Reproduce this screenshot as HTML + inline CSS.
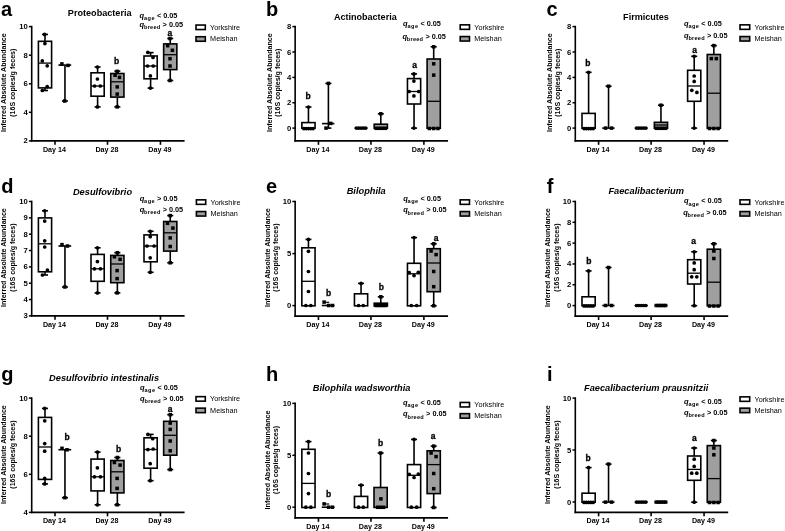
<!DOCTYPE html>
<html lang="en"><head><meta charset="utf-8"><title>Inferred absolute abundance box plots</title>
<style>html,body{margin:0;padding:0;background:#fff}svg{display:block}</style></head>
<body>
<svg width="785" height="531" viewBox="0 0 785 531" font-family='"Liberation Sans", Arial, Helvetica, sans-serif' fill="#000">
<rect width="785" height="531" fill="#fff"/>
<text x="1.00" y="15.60" font-size="20" font-weight="bold" font-style="normal" text-anchor="start">a</text>
<text x="99.70" y="15.70" font-size="9.1" font-weight="bold" font-style="normal" text-anchor="middle">Proteobacteria</text>
<line x1="31.70" y1="25.80" x2="31.70" y2="141.70" stroke="#000" stroke-width="1.6"/>
<line x1="30.90" y1="140.90" x2="184.60" y2="140.90" stroke="#000" stroke-width="1.7"/>
<line x1="28.90" y1="26.60" x2="31.70" y2="26.60" stroke="#000" stroke-width="1.5"/>
<text x="27.80" y="29.10" font-size="7.7" font-weight="bold" font-style="normal" text-anchor="end">10</text>
<line x1="28.90" y1="55.20" x2="31.70" y2="55.20" stroke="#000" stroke-width="1.5"/>
<text x="27.80" y="57.70" font-size="7.7" font-weight="bold" font-style="normal" text-anchor="end">8</text>
<line x1="28.90" y1="83.80" x2="31.70" y2="83.80" stroke="#000" stroke-width="1.5"/>
<text x="27.80" y="86.30" font-size="7.7" font-weight="bold" font-style="normal" text-anchor="end">6</text>
<line x1="28.90" y1="112.30" x2="31.70" y2="112.30" stroke="#000" stroke-width="1.5"/>
<text x="27.80" y="114.80" font-size="7.7" font-weight="bold" font-style="normal" text-anchor="end">4</text>
<line x1="28.90" y1="140.90" x2="31.70" y2="140.90" stroke="#000" stroke-width="1.5"/>
<text x="27.80" y="143.40" font-size="7.7" font-weight="bold" font-style="normal" text-anchor="end">2</text>
<line x1="55.00" y1="140.90" x2="55.00" y2="144.80" stroke="#000" stroke-width="1.6"/>
<text x="54.40" y="152.00" font-size="7.15" font-weight="bold" font-style="normal" text-anchor="middle">Day 14</text>
<line x1="107.50" y1="140.90" x2="107.50" y2="144.80" stroke="#000" stroke-width="1.6"/>
<text x="106.90" y="152.00" font-size="7.15" font-weight="bold" font-style="normal" text-anchor="middle">Day 28</text>
<line x1="160.45" y1="140.90" x2="160.45" y2="144.80" stroke="#000" stroke-width="1.6"/>
<text x="159.85" y="152.00" font-size="7.15" font-weight="bold" font-style="normal" text-anchor="middle">Day 49</text>
<text transform="translate(6.20,82.70) rotate(-90)" font-size="7.1" font-weight="bold" text-anchor="middle">Inferred Absolute Abundance</text>
<text transform="translate(14.70,82.70) rotate(-90)" font-size="7.1" font-weight="bold" text-anchor="middle">(16S copies/g feces)</text>
<text x="139.60" y="17.60" font-size="7.5" font-weight="bold" font-style="italic" text-anchor="start">q</text>
<text x="144.00" y="19.70" font-size="5.6" font-weight="bold" font-style="normal" text-anchor="start" letter-spacing="0.45">age</text>
<text x="156.90" y="17.60" font-size="7.3" font-weight="bold" font-style="normal" text-anchor="start">&lt; 0.05</text>
<text x="139.60" y="27.30" font-size="7.5" font-weight="bold" font-style="italic" text-anchor="start">q</text>
<text x="144.00" y="29.40" font-size="5.6" font-weight="bold" font-style="normal" text-anchor="start" letter-spacing="0.25">breed</text>
<text x="162.60" y="27.30" font-size="7.3" font-weight="bold" font-style="normal" text-anchor="start">&gt; 0.05</text>
<rect x="196.00" y="25.05" width="9.3" height="4.5" fill="#fff" stroke="#000" stroke-width="1.6"/>
<text x="210.10" y="29.75" font-size="7.25" font-weight="normal" font-style="normal" text-anchor="start">Yorkshire</text>
<rect x="196.00" y="36.75" width="9.3" height="4.5" fill="#9f9f9f" stroke="#000" stroke-width="1.6"/>
<text x="210.10" y="41.45" font-size="7.25" font-weight="normal" font-style="normal" text-anchor="start">Meishan</text>
<line x1="45.00" y1="34.40" x2="45.00" y2="41.30" stroke="#000" stroke-width="1.6"/>
<line x1="42.00" y1="34.40" x2="48.00" y2="34.40" stroke="#000" stroke-width="1.6"/>
<line x1="45.00" y1="87.90" x2="45.00" y2="90.50" stroke="#000" stroke-width="1.6"/>
<line x1="42.00" y1="90.50" x2="48.00" y2="90.50" stroke="#000" stroke-width="1.6"/>
<rect x="38.40" y="41.30" width="13.20" height="46.60" fill="#fff" stroke="#000" stroke-width="1.6"/>
<line x1="38.40" y1="63.10" x2="51.60" y2="63.10" stroke="#000" stroke-width="1.3"/>
<circle cx="44.60" cy="34.40" r="1.85" fill="#000"/>
<circle cx="44.90" cy="43.60" r="1.85" fill="#000"/>
<circle cx="42.30" cy="60.90" r="1.85" fill="#000"/>
<circle cx="47.20" cy="65.80" r="1.85" fill="#000"/>
<circle cx="47.20" cy="86.60" r="1.85" fill="#000"/>
<circle cx="42.30" cy="90.50" r="1.85" fill="#000"/>
<line x1="58.40" y1="65.10" x2="71.20" y2="65.10" stroke="#000" stroke-width="1.6"/>
<line x1="64.95" y1="65.10" x2="64.95" y2="101.00" stroke="#000" stroke-width="1.6"/>
<line x1="61.95" y1="101.00" x2="67.95" y2="101.00" stroke="#000" stroke-width="1.6"/>
<rect x="60.15" y="62.15" width="3.5" height="3.5" fill="#000"/>
<rect x="66.25" y="63.65" width="3.5" height="3.5" fill="#000"/>
<rect x="62.95" y="99.25" width="3.5" height="3.5" fill="#000"/>
<line x1="97.60" y1="67.00" x2="97.60" y2="72.80" stroke="#000" stroke-width="1.6"/>
<line x1="94.60" y1="67.00" x2="100.60" y2="67.00" stroke="#000" stroke-width="1.6"/>
<line x1="97.60" y1="96.20" x2="97.60" y2="106.90" stroke="#000" stroke-width="1.6"/>
<line x1="94.60" y1="106.90" x2="100.60" y2="106.90" stroke="#000" stroke-width="1.6"/>
<rect x="91.00" y="72.80" width="13.20" height="23.40" fill="#fff" stroke="#000" stroke-width="1.6"/>
<line x1="91.00" y1="86.00" x2="104.20" y2="86.00" stroke="#000" stroke-width="1.3"/>
<circle cx="97.40" cy="67.00" r="1.85" fill="#000"/>
<circle cx="97.40" cy="79.00" r="1.85" fill="#000"/>
<circle cx="94.60" cy="86.00" r="1.85" fill="#000"/>
<circle cx="100.30" cy="86.00" r="1.85" fill="#000"/>
<circle cx="97.40" cy="106.90" r="1.85" fill="#000"/>
<line x1="117.35" y1="71.10" x2="117.35" y2="73.50" stroke="#000" stroke-width="1.6"/>
<line x1="114.35" y1="71.10" x2="120.35" y2="71.10" stroke="#000" stroke-width="1.6"/>
<line x1="117.35" y1="97.10" x2="117.35" y2="106.90" stroke="#000" stroke-width="1.6"/>
<line x1="114.35" y1="106.90" x2="120.35" y2="106.90" stroke="#000" stroke-width="1.6"/>
<rect x="110.75" y="73.50" width="13.20" height="23.60" fill="#9f9f9f" stroke="#000" stroke-width="1.6"/>
<line x1="110.75" y1="81.80" x2="123.95" y2="81.80" stroke="#000" stroke-width="1.3"/>
<rect x="115.45" y="69.55" width="3.5" height="3.5" fill="#000"/>
<rect x="113.35" y="73.55" width="3.5" height="3.5" fill="#000"/>
<rect x="117.75" y="75.65" width="3.5" height="3.5" fill="#000"/>
<rect x="115.45" y="85.15" width="3.5" height="3.5" fill="#000"/>
<rect x="115.45" y="92.35" width="3.5" height="3.5" fill="#000"/>
<rect x="115.45" y="105.15" width="3.5" height="3.5" fill="#000"/>
<text x="116.70" y="63.80" font-size="8.5" font-weight="bold" font-style="normal" text-anchor="middle" stroke="#000" stroke-width="0.3">b</text>
<line x1="150.60" y1="52.60" x2="150.60" y2="56.00" stroke="#000" stroke-width="1.6"/>
<line x1="147.60" y1="52.60" x2="153.60" y2="52.60" stroke="#000" stroke-width="1.6"/>
<line x1="150.60" y1="78.80" x2="150.60" y2="88.10" stroke="#000" stroke-width="1.6"/>
<line x1="147.60" y1="88.10" x2="153.60" y2="88.10" stroke="#000" stroke-width="1.6"/>
<rect x="144.00" y="56.00" width="13.20" height="22.80" fill="#fff" stroke="#000" stroke-width="1.6"/>
<line x1="144.00" y1="66.00" x2="157.20" y2="66.00" stroke="#000" stroke-width="1.3"/>
<circle cx="147.80" cy="52.40" r="1.85" fill="#000"/>
<circle cx="153.00" cy="57.40" r="1.85" fill="#000"/>
<circle cx="147.50" cy="66.00" r="1.85" fill="#000"/>
<circle cx="153.20" cy="66.00" r="1.85" fill="#000"/>
<circle cx="150.40" cy="75.90" r="1.85" fill="#000"/>
<circle cx="150.40" cy="88.10" r="1.85" fill="#000"/>
<line x1="170.25" y1="38.50" x2="170.25" y2="43.90" stroke="#000" stroke-width="1.6"/>
<line x1="167.25" y1="38.50" x2="173.25" y2="38.50" stroke="#000" stroke-width="1.6"/>
<line x1="170.25" y1="69.60" x2="170.25" y2="80.50" stroke="#000" stroke-width="1.6"/>
<line x1="167.25" y1="80.50" x2="173.25" y2="80.50" stroke="#000" stroke-width="1.6"/>
<rect x="163.65" y="43.90" width="13.20" height="25.70" fill="#9f9f9f" stroke="#000" stroke-width="1.6"/>
<line x1="163.65" y1="54.70" x2="176.85" y2="54.70" stroke="#000" stroke-width="1.3"/>
<rect x="168.25" y="36.75" width="3.5" height="3.5" fill="#000"/>
<rect x="165.95" y="43.95" width="3.5" height="3.5" fill="#000"/>
<rect x="170.65" y="48.55" width="3.5" height="3.5" fill="#000"/>
<rect x="168.25" y="56.95" width="3.5" height="3.5" fill="#000"/>
<rect x="168.25" y="64.25" width="3.5" height="3.5" fill="#000"/>
<rect x="168.25" y="78.75" width="3.5" height="3.5" fill="#000"/>
<text x="169.80" y="36.40" font-size="8.5" font-weight="bold" font-style="normal" text-anchor="middle" stroke="#000" stroke-width="0.3">a</text>
<text x="1.20" y="193.00" font-size="20" font-weight="bold" font-style="normal" text-anchor="start">d</text>
<text x="102.50" y="194.60" font-size="9.25" font-weight="bold" font-style="italic" text-anchor="middle">Desulfovibrio</text>
<line x1="31.70" y1="200.70" x2="31.70" y2="316.70" stroke="#000" stroke-width="1.6"/>
<line x1="30.90" y1="315.90" x2="184.60" y2="315.90" stroke="#000" stroke-width="1.7"/>
<line x1="28.90" y1="201.50" x2="31.70" y2="201.50" stroke="#000" stroke-width="1.5"/>
<text x="27.80" y="204.00" font-size="7.7" font-weight="bold" font-style="normal" text-anchor="end">10</text>
<line x1="28.90" y1="217.84" x2="31.70" y2="217.84" stroke="#000" stroke-width="1.5"/>
<text x="27.80" y="220.34" font-size="7.7" font-weight="bold" font-style="normal" text-anchor="end">9</text>
<line x1="28.90" y1="234.18" x2="31.70" y2="234.18" stroke="#000" stroke-width="1.5"/>
<text x="27.80" y="236.68" font-size="7.7" font-weight="bold" font-style="normal" text-anchor="end">8</text>
<line x1="28.90" y1="250.52" x2="31.70" y2="250.52" stroke="#000" stroke-width="1.5"/>
<text x="27.80" y="253.02" font-size="7.7" font-weight="bold" font-style="normal" text-anchor="end">7</text>
<line x1="28.90" y1="266.86" x2="31.70" y2="266.86" stroke="#000" stroke-width="1.5"/>
<text x="27.80" y="269.36" font-size="7.7" font-weight="bold" font-style="normal" text-anchor="end">6</text>
<line x1="28.90" y1="283.20" x2="31.70" y2="283.20" stroke="#000" stroke-width="1.5"/>
<text x="27.80" y="285.70" font-size="7.7" font-weight="bold" font-style="normal" text-anchor="end">5</text>
<line x1="28.90" y1="299.54" x2="31.70" y2="299.54" stroke="#000" stroke-width="1.5"/>
<text x="27.80" y="302.04" font-size="7.7" font-weight="bold" font-style="normal" text-anchor="end">4</text>
<line x1="28.90" y1="315.88" x2="31.70" y2="315.88" stroke="#000" stroke-width="1.5"/>
<text x="27.80" y="318.38" font-size="7.7" font-weight="bold" font-style="normal" text-anchor="end">3</text>
<line x1="55.00" y1="315.90" x2="55.00" y2="319.80" stroke="#000" stroke-width="1.6"/>
<text x="54.40" y="327.00" font-size="7.15" font-weight="bold" font-style="normal" text-anchor="middle">Day 14</text>
<line x1="107.50" y1="315.90" x2="107.50" y2="319.80" stroke="#000" stroke-width="1.6"/>
<text x="106.90" y="327.00" font-size="7.15" font-weight="bold" font-style="normal" text-anchor="middle">Day 28</text>
<line x1="160.45" y1="315.90" x2="160.45" y2="319.80" stroke="#000" stroke-width="1.6"/>
<text x="159.85" y="327.00" font-size="7.15" font-weight="bold" font-style="normal" text-anchor="middle">Day 49</text>
<text transform="translate(6.20,257.60) rotate(-90)" font-size="7.1" font-weight="bold" text-anchor="middle">Inferred Absolute Abundance</text>
<text transform="translate(14.70,257.60) rotate(-90)" font-size="7.1" font-weight="bold" text-anchor="middle">(16S copies/g feces)</text>
<text x="139.70" y="201.10" font-size="7.5" font-weight="bold" font-style="italic" text-anchor="start">q</text>
<text x="144.10" y="203.20" font-size="5.6" font-weight="bold" font-style="normal" text-anchor="start" letter-spacing="0.45">age</text>
<text x="157.00" y="201.10" font-size="7.3" font-weight="bold" font-style="normal" text-anchor="start">&gt; 0.05</text>
<text x="139.70" y="212.30" font-size="7.5" font-weight="bold" font-style="italic" text-anchor="start">q</text>
<text x="144.10" y="214.40" font-size="5.6" font-weight="bold" font-style="normal" text-anchor="start" letter-spacing="0.25">breed</text>
<text x="162.70" y="212.30" font-size="7.3" font-weight="bold" font-style="normal" text-anchor="start">&gt; 0.05</text>
<rect x="196.40" y="199.85" width="9.3" height="4.5" fill="#fff" stroke="#000" stroke-width="1.6"/>
<text x="210.50" y="204.55" font-size="7.25" font-weight="normal" font-style="normal" text-anchor="start">Yorkshire</text>
<rect x="196.40" y="211.55" width="9.3" height="4.5" fill="#9f9f9f" stroke="#000" stroke-width="1.6"/>
<text x="210.50" y="216.25" font-size="7.25" font-weight="normal" font-style="normal" text-anchor="start">Meishan</text>
<line x1="45.00" y1="210.80" x2="45.00" y2="217.90" stroke="#000" stroke-width="1.6"/>
<line x1="42.00" y1="210.80" x2="48.00" y2="210.80" stroke="#000" stroke-width="1.6"/>
<line x1="45.00" y1="271.80" x2="45.00" y2="275.00" stroke="#000" stroke-width="1.6"/>
<line x1="42.00" y1="275.00" x2="48.00" y2="275.00" stroke="#000" stroke-width="1.6"/>
<rect x="38.40" y="217.90" width="13.20" height="53.90" fill="#fff" stroke="#000" stroke-width="1.6"/>
<line x1="38.40" y1="243.80" x2="51.60" y2="243.80" stroke="#000" stroke-width="1.3"/>
<circle cx="44.70" cy="210.80" r="1.85" fill="#000"/>
<circle cx="44.70" cy="221.10" r="1.85" fill="#000"/>
<circle cx="44.70" cy="240.80" r="1.85" fill="#000"/>
<circle cx="44.70" cy="247.00" r="1.85" fill="#000"/>
<circle cx="47.40" cy="270.00" r="1.85" fill="#000"/>
<circle cx="42.40" cy="275.00" r="1.85" fill="#000"/>
<line x1="58.40" y1="246.00" x2="71.20" y2="246.00" stroke="#000" stroke-width="1.6"/>
<line x1="64.95" y1="246.00" x2="64.95" y2="287.00" stroke="#000" stroke-width="1.6"/>
<line x1="61.95" y1="287.00" x2="67.95" y2="287.00" stroke="#000" stroke-width="1.6"/>
<rect x="60.25" y="242.85" width="3.5" height="3.5" fill="#000"/>
<rect x="65.75" y="244.25" width="3.5" height="3.5" fill="#000"/>
<rect x="63.15" y="285.25" width="3.5" height="3.5" fill="#000"/>
<line x1="97.60" y1="247.80" x2="97.60" y2="254.40" stroke="#000" stroke-width="1.6"/>
<line x1="94.60" y1="247.80" x2="100.60" y2="247.80" stroke="#000" stroke-width="1.6"/>
<line x1="97.60" y1="281.30" x2="97.60" y2="292.90" stroke="#000" stroke-width="1.6"/>
<line x1="94.60" y1="292.90" x2="100.60" y2="292.90" stroke="#000" stroke-width="1.6"/>
<rect x="91.00" y="254.40" width="13.20" height="26.90" fill="#fff" stroke="#000" stroke-width="1.6"/>
<line x1="91.00" y1="268.80" x2="104.20" y2="268.80" stroke="#000" stroke-width="1.3"/>
<circle cx="97.40" cy="247.80" r="1.85" fill="#000"/>
<circle cx="97.40" cy="261.60" r="1.85" fill="#000"/>
<circle cx="94.40" cy="268.80" r="1.85" fill="#000"/>
<circle cx="100.50" cy="268.80" r="1.85" fill="#000"/>
<circle cx="97.40" cy="292.90" r="1.85" fill="#000"/>
<line x1="117.35" y1="252.70" x2="117.35" y2="255.40" stroke="#000" stroke-width="1.6"/>
<line x1="114.35" y1="252.70" x2="120.35" y2="252.70" stroke="#000" stroke-width="1.6"/>
<line x1="117.35" y1="282.70" x2="117.35" y2="292.90" stroke="#000" stroke-width="1.6"/>
<line x1="114.35" y1="292.90" x2="120.35" y2="292.90" stroke="#000" stroke-width="1.6"/>
<rect x="110.75" y="255.40" width="13.20" height="27.30" fill="#9f9f9f" stroke="#000" stroke-width="1.6"/>
<line x1="110.75" y1="264.00" x2="123.95" y2="264.00" stroke="#000" stroke-width="1.3"/>
<rect x="115.65" y="250.95" width="3.5" height="3.5" fill="#000"/>
<rect x="112.65" y="255.05" width="3.5" height="3.5" fill="#000"/>
<rect x="118.35" y="257.55" width="3.5" height="3.5" fill="#000"/>
<rect x="115.35" y="268.85" width="3.5" height="3.5" fill="#000"/>
<rect x="115.35" y="276.85" width="3.5" height="3.5" fill="#000"/>
<rect x="115.35" y="291.15" width="3.5" height="3.5" fill="#000"/>
<line x1="150.60" y1="231.30" x2="150.60" y2="234.90" stroke="#000" stroke-width="1.6"/>
<line x1="147.60" y1="231.30" x2="153.60" y2="231.30" stroke="#000" stroke-width="1.6"/>
<line x1="150.60" y1="261.80" x2="150.60" y2="272.30" stroke="#000" stroke-width="1.6"/>
<line x1="147.60" y1="272.30" x2="153.60" y2="272.30" stroke="#000" stroke-width="1.6"/>
<rect x="144.00" y="234.90" width="13.20" height="26.90" fill="#fff" stroke="#000" stroke-width="1.6"/>
<line x1="144.00" y1="246.00" x2="157.20" y2="246.00" stroke="#000" stroke-width="1.3"/>
<circle cx="150.20" cy="231.30" r="1.85" fill="#000"/>
<circle cx="150.20" cy="236.70" r="1.85" fill="#000"/>
<circle cx="147.00" cy="246.00" r="1.85" fill="#000"/>
<circle cx="154.10" cy="246.00" r="1.85" fill="#000"/>
<circle cx="150.20" cy="257.80" r="1.85" fill="#000"/>
<circle cx="150.20" cy="272.30" r="1.85" fill="#000"/>
<line x1="170.25" y1="215.60" x2="170.25" y2="221.50" stroke="#000" stroke-width="1.6"/>
<line x1="167.25" y1="215.60" x2="173.25" y2="215.60" stroke="#000" stroke-width="1.6"/>
<line x1="170.25" y1="251.10" x2="170.25" y2="262.80" stroke="#000" stroke-width="1.6"/>
<line x1="167.25" y1="262.80" x2="173.25" y2="262.80" stroke="#000" stroke-width="1.6"/>
<rect x="163.65" y="221.50" width="13.20" height="29.60" fill="#9f9f9f" stroke="#000" stroke-width="1.6"/>
<line x1="163.65" y1="232.80" x2="176.85" y2="232.80" stroke="#000" stroke-width="1.3"/>
<rect x="168.45" y="213.85" width="3.5" height="3.5" fill="#000"/>
<rect x="165.75" y="221.55" width="3.5" height="3.5" fill="#000"/>
<rect x="171.15" y="226.35" width="3.5" height="3.5" fill="#000"/>
<rect x="168.45" y="236.15" width="3.5" height="3.5" fill="#000"/>
<rect x="168.45" y="244.75" width="3.5" height="3.5" fill="#000"/>
<rect x="168.45" y="261.05" width="3.5" height="3.5" fill="#000"/>
<text x="1.20" y="381.10" font-size="20" font-weight="bold" font-style="normal" text-anchor="start">g</text>
<text x="104.10" y="380.70" font-size="9.25" font-weight="bold" font-style="italic" text-anchor="middle">Desulfovibrio intestinalis</text>
<line x1="31.70" y1="397.30" x2="31.70" y2="513.20" stroke="#000" stroke-width="1.6"/>
<line x1="30.90" y1="512.40" x2="184.60" y2="512.40" stroke="#000" stroke-width="1.7"/>
<line x1="28.90" y1="398.10" x2="31.70" y2="398.10" stroke="#000" stroke-width="1.5"/>
<text x="27.80" y="400.60" font-size="7.7" font-weight="bold" font-style="normal" text-anchor="end">10</text>
<line x1="28.90" y1="436.20" x2="31.70" y2="436.20" stroke="#000" stroke-width="1.5"/>
<text x="27.80" y="438.70" font-size="7.7" font-weight="bold" font-style="normal" text-anchor="end">8</text>
<line x1="28.90" y1="474.30" x2="31.70" y2="474.30" stroke="#000" stroke-width="1.5"/>
<text x="27.80" y="476.80" font-size="7.7" font-weight="bold" font-style="normal" text-anchor="end">6</text>
<line x1="28.90" y1="512.40" x2="31.70" y2="512.40" stroke="#000" stroke-width="1.5"/>
<text x="27.80" y="514.90" font-size="7.7" font-weight="bold" font-style="normal" text-anchor="end">4</text>
<line x1="55.00" y1="512.40" x2="55.00" y2="516.30" stroke="#000" stroke-width="1.6"/>
<text x="54.40" y="523.40" font-size="7.15" font-weight="bold" font-style="normal" text-anchor="middle">Day 14</text>
<line x1="107.50" y1="512.40" x2="107.50" y2="516.30" stroke="#000" stroke-width="1.6"/>
<text x="106.90" y="523.40" font-size="7.15" font-weight="bold" font-style="normal" text-anchor="middle">Day 28</text>
<line x1="160.45" y1="512.40" x2="160.45" y2="516.30" stroke="#000" stroke-width="1.6"/>
<text x="159.85" y="523.40" font-size="7.15" font-weight="bold" font-style="normal" text-anchor="middle">Day 49</text>
<text transform="translate(6.20,454.60) rotate(-90)" font-size="7.1" font-weight="bold" text-anchor="middle">Inferred Absolute Abundance</text>
<text transform="translate(14.70,454.60) rotate(-90)" font-size="7.1" font-weight="bold" text-anchor="middle">(16S copies/g feces)</text>
<text x="140.10" y="390.20" font-size="7.5" font-weight="bold" font-style="italic" text-anchor="start">q</text>
<text x="144.50" y="392.30" font-size="5.6" font-weight="bold" font-style="normal" text-anchor="start" letter-spacing="0.45">age</text>
<text x="157.40" y="390.20" font-size="7.3" font-weight="bold" font-style="normal" text-anchor="start">&lt; 0.05</text>
<text x="140.10" y="401.20" font-size="7.5" font-weight="bold" font-style="italic" text-anchor="start">q</text>
<text x="144.50" y="403.30" font-size="5.6" font-weight="bold" font-style="normal" text-anchor="start" letter-spacing="0.25">breed</text>
<text x="163.10" y="401.20" font-size="7.3" font-weight="bold" font-style="normal" text-anchor="start">&gt; 0.05</text>
<rect x="196.00" y="396.65" width="9.3" height="4.5" fill="#fff" stroke="#000" stroke-width="1.6"/>
<text x="210.10" y="401.35" font-size="7.25" font-weight="normal" font-style="normal" text-anchor="start">Yorkshire</text>
<rect x="196.00" y="408.15" width="9.3" height="4.5" fill="#9f9f9f" stroke="#000" stroke-width="1.6"/>
<text x="210.10" y="412.85" font-size="7.25" font-weight="normal" font-style="normal" text-anchor="start">Meishan</text>
<line x1="45.00" y1="408.40" x2="45.00" y2="417.40" stroke="#000" stroke-width="1.6"/>
<line x1="42.00" y1="408.40" x2="48.00" y2="408.40" stroke="#000" stroke-width="1.6"/>
<line x1="45.00" y1="479.40" x2="45.00" y2="483.90" stroke="#000" stroke-width="1.6"/>
<line x1="42.00" y1="483.90" x2="48.00" y2="483.90" stroke="#000" stroke-width="1.6"/>
<rect x="38.40" y="417.40" width="13.20" height="62.00" fill="#fff" stroke="#000" stroke-width="1.6"/>
<line x1="38.40" y1="447.00" x2="51.60" y2="447.00" stroke="#000" stroke-width="1.3"/>
<circle cx="44.70" cy="408.40" r="1.85" fill="#000"/>
<circle cx="44.70" cy="420.80" r="1.85" fill="#000"/>
<circle cx="44.70" cy="443.60" r="1.85" fill="#000"/>
<circle cx="44.70" cy="451.20" r="1.85" fill="#000"/>
<circle cx="44.70" cy="478.40" r="1.85" fill="#000"/>
<circle cx="44.70" cy="483.90" r="1.85" fill="#000"/>
<line x1="58.40" y1="449.70" x2="71.20" y2="449.70" stroke="#000" stroke-width="1.6"/>
<line x1="64.95" y1="449.70" x2="64.95" y2="497.70" stroke="#000" stroke-width="1.6"/>
<line x1="61.95" y1="497.70" x2="67.95" y2="497.70" stroke="#000" stroke-width="1.6"/>
<rect x="60.25" y="446.55" width="3.5" height="3.5" fill="#000"/>
<rect x="65.25" y="448.05" width="3.5" height="3.5" fill="#000"/>
<rect x="63.15" y="495.95" width="3.5" height="3.5" fill="#000"/>
<text x="67.00" y="440.30" font-size="8.5" font-weight="bold" font-style="normal" text-anchor="middle" stroke="#000" stroke-width="0.3">b</text>
<line x1="97.60" y1="452.10" x2="97.60" y2="459.10" stroke="#000" stroke-width="1.6"/>
<line x1="94.60" y1="452.10" x2="100.60" y2="452.10" stroke="#000" stroke-width="1.6"/>
<line x1="97.60" y1="490.90" x2="97.60" y2="504.80" stroke="#000" stroke-width="1.6"/>
<line x1="94.60" y1="504.80" x2="100.60" y2="504.80" stroke="#000" stroke-width="1.6"/>
<rect x="91.00" y="459.10" width="13.20" height="31.80" fill="#fff" stroke="#000" stroke-width="1.6"/>
<line x1="91.00" y1="476.80" x2="104.20" y2="476.80" stroke="#000" stroke-width="1.3"/>
<circle cx="97.40" cy="452.10" r="1.85" fill="#000"/>
<circle cx="97.40" cy="467.80" r="1.85" fill="#000"/>
<circle cx="94.40" cy="476.80" r="1.85" fill="#000"/>
<circle cx="100.50" cy="476.80" r="1.85" fill="#000"/>
<circle cx="97.40" cy="504.80" r="1.85" fill="#000"/>
<line x1="117.35" y1="457.50" x2="117.35" y2="460.50" stroke="#000" stroke-width="1.6"/>
<line x1="114.35" y1="457.50" x2="120.35" y2="457.50" stroke="#000" stroke-width="1.6"/>
<line x1="117.35" y1="492.90" x2="117.35" y2="504.80" stroke="#000" stroke-width="1.6"/>
<line x1="114.35" y1="504.80" x2="120.35" y2="504.80" stroke="#000" stroke-width="1.6"/>
<rect x="110.75" y="460.50" width="13.20" height="32.40" fill="#9f9f9f" stroke="#000" stroke-width="1.6"/>
<line x1="110.75" y1="471.80" x2="123.95" y2="471.80" stroke="#000" stroke-width="1.3"/>
<rect x="115.65" y="455.75" width="3.5" height="3.5" fill="#000"/>
<rect x="112.65" y="460.75" width="3.5" height="3.5" fill="#000"/>
<rect x="118.35" y="463.35" width="3.5" height="3.5" fill="#000"/>
<rect x="115.35" y="476.65" width="3.5" height="3.5" fill="#000"/>
<rect x="115.35" y="486.65" width="3.5" height="3.5" fill="#000"/>
<rect x="115.35" y="503.05" width="3.5" height="3.5" fill="#000"/>
<text x="118.50" y="452.30" font-size="8.5" font-weight="bold" font-style="normal" text-anchor="middle" stroke="#000" stroke-width="0.3">b</text>
<line x1="150.60" y1="434.40" x2="150.60" y2="437.80" stroke="#000" stroke-width="1.6"/>
<line x1="147.60" y1="434.40" x2="153.60" y2="434.40" stroke="#000" stroke-width="1.6"/>
<line x1="150.60" y1="468.20" x2="150.60" y2="480.70" stroke="#000" stroke-width="1.6"/>
<line x1="147.60" y1="480.70" x2="153.60" y2="480.70" stroke="#000" stroke-width="1.6"/>
<rect x="144.00" y="437.80" width="13.20" height="30.40" fill="#fff" stroke="#000" stroke-width="1.6"/>
<line x1="144.00" y1="449.50" x2="157.20" y2="449.50" stroke="#000" stroke-width="1.3"/>
<circle cx="147.90" cy="434.40" r="1.85" fill="#000"/>
<circle cx="152.70" cy="438.70" r="1.85" fill="#000"/>
<circle cx="147.90" cy="449.60" r="1.85" fill="#000"/>
<circle cx="153.20" cy="449.00" r="1.85" fill="#000"/>
<circle cx="150.20" cy="463.70" r="1.85" fill="#000"/>
<circle cx="150.20" cy="480.70" r="1.85" fill="#000"/>
<line x1="170.25" y1="414.70" x2="170.25" y2="421.30" stroke="#000" stroke-width="1.6"/>
<line x1="167.25" y1="414.70" x2="173.25" y2="414.70" stroke="#000" stroke-width="1.6"/>
<line x1="170.25" y1="455.20" x2="170.25" y2="469.60" stroke="#000" stroke-width="1.6"/>
<line x1="167.25" y1="469.60" x2="173.25" y2="469.60" stroke="#000" stroke-width="1.6"/>
<rect x="163.65" y="421.30" width="13.20" height="33.90" fill="#9f9f9f" stroke="#000" stroke-width="1.6"/>
<line x1="163.65" y1="435.30" x2="176.85" y2="435.30" stroke="#000" stroke-width="1.3"/>
<rect x="168.45" y="412.95" width="3.5" height="3.5" fill="#000"/>
<rect x="168.45" y="421.35" width="3.5" height="3.5" fill="#000"/>
<rect x="168.45" y="427.65" width="3.5" height="3.5" fill="#000"/>
<rect x="168.45" y="439.25" width="3.5" height="3.5" fill="#000"/>
<rect x="168.45" y="449.05" width="3.5" height="3.5" fill="#000"/>
<rect x="168.45" y="467.85" width="3.5" height="3.5" fill="#000"/>
<text x="170.20" y="412.20" font-size="8.5" font-weight="bold" font-style="normal" text-anchor="middle" stroke="#000" stroke-width="0.3">a</text>
<text x="266.00" y="15.60" font-size="20" font-weight="bold" font-style="normal" text-anchor="start">b</text>
<text x="365.30" y="20.00" font-size="9.05" font-weight="bold" font-style="normal" text-anchor="middle">Actinobacteria</text>
<line x1="295.15" y1="25.80" x2="295.15" y2="141.70" stroke="#000" stroke-width="1.6"/>
<line x1="294.35" y1="140.90" x2="448.05" y2="140.90" stroke="#000" stroke-width="1.7"/>
<line x1="292.35" y1="26.60" x2="295.15" y2="26.60" stroke="#000" stroke-width="1.5"/>
<text x="291.25" y="29.10" font-size="7.7" font-weight="bold" font-style="normal" text-anchor="end">8</text>
<line x1="292.35" y1="52.00" x2="295.15" y2="52.00" stroke="#000" stroke-width="1.5"/>
<text x="291.25" y="54.50" font-size="7.7" font-weight="bold" font-style="normal" text-anchor="end">6</text>
<line x1="292.35" y1="77.40" x2="295.15" y2="77.40" stroke="#000" stroke-width="1.5"/>
<text x="291.25" y="79.90" font-size="7.7" font-weight="bold" font-style="normal" text-anchor="end">4</text>
<line x1="292.35" y1="102.75" x2="295.15" y2="102.75" stroke="#000" stroke-width="1.5"/>
<text x="291.25" y="105.25" font-size="7.7" font-weight="bold" font-style="normal" text-anchor="end">2</text>
<line x1="292.35" y1="128.10" x2="295.15" y2="128.10" stroke="#000" stroke-width="1.5"/>
<text x="291.25" y="130.60" font-size="7.7" font-weight="bold" font-style="normal" text-anchor="end">0</text>
<line x1="318.45" y1="140.90" x2="318.45" y2="144.80" stroke="#000" stroke-width="1.6"/>
<text x="317.85" y="152.00" font-size="7.15" font-weight="bold" font-style="normal" text-anchor="middle">Day 14</text>
<line x1="370.95" y1="140.90" x2="370.95" y2="144.80" stroke="#000" stroke-width="1.6"/>
<text x="370.35" y="152.00" font-size="7.15" font-weight="bold" font-style="normal" text-anchor="middle">Day 28</text>
<line x1="423.90" y1="140.90" x2="423.90" y2="144.80" stroke="#000" stroke-width="1.6"/>
<text x="423.30" y="152.00" font-size="7.15" font-weight="bold" font-style="normal" text-anchor="middle">Day 49</text>
<text transform="translate(271.90,82.70) rotate(-90)" font-size="7.1" font-weight="bold" text-anchor="middle">Inferred Absolute Abundance</text>
<text transform="translate(280.30,82.70) rotate(-90)" font-size="7.1" font-weight="bold" text-anchor="middle">(16S copies/g feces)</text>
<text x="403.10" y="25.90" font-size="7.5" font-weight="bold" font-style="italic" text-anchor="start">q</text>
<text x="407.50" y="28.00" font-size="5.6" font-weight="bold" font-style="normal" text-anchor="start" letter-spacing="0.45">age</text>
<text x="420.40" y="25.90" font-size="7.3" font-weight="bold" font-style="normal" text-anchor="start">&lt; 0.05</text>
<text x="402.40" y="38.80" font-size="7.5" font-weight="bold" font-style="italic" text-anchor="start">q</text>
<text x="406.80" y="40.90" font-size="5.6" font-weight="bold" font-style="normal" text-anchor="start" letter-spacing="0.25">breed</text>
<text x="425.40" y="38.80" font-size="7.3" font-weight="bold" font-style="normal" text-anchor="start">&gt; 0.05</text>
<rect x="460.20" y="24.85" width="9.3" height="4.5" fill="#fff" stroke="#000" stroke-width="1.6"/>
<text x="474.30" y="29.55" font-size="7.25" font-weight="normal" font-style="normal" text-anchor="start">Yorkshire</text>
<rect x="460.20" y="36.55" width="9.3" height="4.5" fill="#9f9f9f" stroke="#000" stroke-width="1.6"/>
<text x="474.30" y="41.25" font-size="7.25" font-weight="normal" font-style="normal" text-anchor="start">Meishan</text>
<line x1="308.45" y1="107.00" x2="308.45" y2="122.60" stroke="#000" stroke-width="1.6"/>
<line x1="305.45" y1="107.00" x2="311.45" y2="107.00" stroke="#000" stroke-width="1.6"/>
<rect x="301.85" y="122.60" width="13.20" height="5.70" fill="#fff" stroke="#000" stroke-width="1.6"/>
<circle cx="308.45" cy="107.00" r="1.85" fill="#000"/>
<circle cx="303.85" cy="128.60" r="1.85" fill="#000"/>
<circle cx="306.15" cy="128.60" r="1.85" fill="#000"/>
<circle cx="308.45" cy="128.60" r="1.85" fill="#000"/>
<circle cx="310.75" cy="128.60" r="1.85" fill="#000"/>
<circle cx="313.05" cy="128.60" r="1.85" fill="#000"/>
<text x="308.20" y="99.20" font-size="8.5" font-weight="bold" font-style="normal" text-anchor="middle" stroke="#000" stroke-width="0.3">b</text>
<line x1="322.00" y1="123.60" x2="334.40" y2="123.60" stroke="#000" stroke-width="1.6"/>
<line x1="328.40" y1="83.40" x2="328.40" y2="123.60" stroke="#000" stroke-width="1.6"/>
<line x1="325.40" y1="83.40" x2="331.40" y2="83.40" stroke="#000" stroke-width="1.6"/>
<line x1="328.40" y1="123.60" x2="328.40" y2="128.10" stroke="#000" stroke-width="1.6"/>
<line x1="325.40" y1="128.10" x2="331.40" y2="128.10" stroke="#000" stroke-width="1.6"/>
<rect x="326.65" y="81.65" width="3.5" height="3.5" fill="#000"/>
<rect x="329.05" y="121.65" width="3.5" height="3.5" fill="#000"/>
<rect x="324.25" y="126.35" width="3.5" height="3.5" fill="#000"/>
<line x1="354.45" y1="128.10" x2="367.65" y2="128.10" stroke="#000" stroke-width="1.2"/>
<circle cx="356.45" cy="128.10" r="1.85" fill="#000"/>
<circle cx="358.75" cy="128.10" r="1.85" fill="#000"/>
<circle cx="361.05" cy="128.10" r="1.85" fill="#000"/>
<circle cx="363.35" cy="128.10" r="1.85" fill="#000"/>
<circle cx="365.65" cy="128.10" r="1.85" fill="#000"/>
<line x1="380.80" y1="113.80" x2="380.80" y2="124.20" stroke="#000" stroke-width="1.6"/>
<line x1="377.80" y1="113.80" x2="383.80" y2="113.80" stroke="#000" stroke-width="1.6"/>
<rect x="374.20" y="124.20" width="13.20" height="4.10" fill="#9f9f9f" stroke="#000" stroke-width="1.6"/>
<rect x="379.05" y="112.05" width="3.5" height="3.5" fill="#000"/>
<rect x="374.45" y="126.55" width="3.5" height="3.5" fill="#000"/>
<rect x="377.52" y="126.55" width="3.5" height="3.5" fill="#000"/>
<rect x="380.58" y="126.55" width="3.5" height="3.5" fill="#000"/>
<rect x="383.65" y="126.55" width="3.5" height="3.5" fill="#000"/>
<line x1="414.05" y1="73.90" x2="414.05" y2="78.60" stroke="#000" stroke-width="1.6"/>
<line x1="411.05" y1="73.90" x2="417.05" y2="73.90" stroke="#000" stroke-width="1.6"/>
<line x1="414.05" y1="104.00" x2="414.05" y2="128.10" stroke="#000" stroke-width="1.6"/>
<line x1="411.05" y1="128.10" x2="417.05" y2="128.10" stroke="#000" stroke-width="1.6"/>
<rect x="407.45" y="78.60" width="13.20" height="25.40" fill="#fff" stroke="#000" stroke-width="1.6"/>
<line x1="407.45" y1="91.50" x2="420.65" y2="91.50" stroke="#000" stroke-width="1.3"/>
<circle cx="413.90" cy="73.90" r="1.85" fill="#000"/>
<circle cx="413.90" cy="81.10" r="1.85" fill="#000"/>
<circle cx="409.20" cy="91.50" r="1.85" fill="#000"/>
<circle cx="418.70" cy="91.50" r="1.85" fill="#000"/>
<circle cx="413.90" cy="95.90" r="1.85" fill="#000"/>
<circle cx="413.90" cy="128.10" r="1.85" fill="#000"/>
<line x1="433.70" y1="46.80" x2="433.70" y2="59.00" stroke="#000" stroke-width="1.6"/>
<line x1="430.70" y1="46.80" x2="436.70" y2="46.80" stroke="#000" stroke-width="1.6"/>
<rect x="427.10" y="59.00" width="13.20" height="69.30" fill="#9f9f9f" stroke="#000" stroke-width="1.6"/>
<line x1="427.10" y1="101.30" x2="440.30" y2="101.30" stroke="#000" stroke-width="1.3"/>
<rect x="431.95" y="45.05" width="3.5" height="3.5" fill="#000"/>
<rect x="431.95" y="62.05" width="3.5" height="3.5" fill="#000"/>
<rect x="431.95" y="73.35" width="3.5" height="3.5" fill="#000"/>
<rect x="427.65" y="126.75" width="3.5" height="3.5" fill="#000"/>
<rect x="431.95" y="126.75" width="3.5" height="3.5" fill="#000"/>
<rect x="436.25" y="126.75" width="3.5" height="3.5" fill="#000"/>
<text x="414.50" y="67.60" font-size="8.5" font-weight="bold" font-style="normal" text-anchor="middle" stroke="#000" stroke-width="0.3">a</text>
<text x="266.00" y="193.00" font-size="20" font-weight="bold" font-style="normal" text-anchor="start">e</text>
<text x="366.20" y="194.30" font-size="9.25" font-weight="bold" font-style="italic" text-anchor="middle">Bilophila</text>
<line x1="295.15" y1="200.70" x2="295.15" y2="316.90" stroke="#000" stroke-width="1.6"/>
<line x1="294.35" y1="316.10" x2="448.05" y2="316.10" stroke="#000" stroke-width="1.7"/>
<line x1="292.35" y1="201.50" x2="295.15" y2="201.50" stroke="#000" stroke-width="1.5"/>
<text x="291.25" y="204.00" font-size="7.7" font-weight="bold" font-style="normal" text-anchor="end">10</text>
<line x1="292.35" y1="253.60" x2="295.15" y2="253.60" stroke="#000" stroke-width="1.5"/>
<text x="291.25" y="256.10" font-size="7.7" font-weight="bold" font-style="normal" text-anchor="end">5</text>
<line x1="292.35" y1="305.60" x2="295.15" y2="305.60" stroke="#000" stroke-width="1.5"/>
<text x="291.25" y="308.10" font-size="7.7" font-weight="bold" font-style="normal" text-anchor="end">0</text>
<line x1="318.45" y1="316.10" x2="318.45" y2="320.00" stroke="#000" stroke-width="1.6"/>
<text x="317.85" y="327.00" font-size="7.15" font-weight="bold" font-style="normal" text-anchor="middle">Day 14</text>
<line x1="370.95" y1="316.10" x2="370.95" y2="320.00" stroke="#000" stroke-width="1.6"/>
<text x="370.35" y="327.00" font-size="7.15" font-weight="bold" font-style="normal" text-anchor="middle">Day 28</text>
<line x1="423.90" y1="316.10" x2="423.90" y2="320.00" stroke="#000" stroke-width="1.6"/>
<text x="423.30" y="327.00" font-size="7.15" font-weight="bold" font-style="normal" text-anchor="middle">Day 49</text>
<text transform="translate(269.60,257.60) rotate(-90)" font-size="7.1" font-weight="bold" text-anchor="middle">Inferred Absolute Abundance</text>
<text transform="translate(278.40,257.60) rotate(-90)" font-size="7.1" font-weight="bold" text-anchor="middle">(16S copies/g feces)</text>
<text x="403.20" y="201.10" font-size="7.5" font-weight="bold" font-style="italic" text-anchor="start">q</text>
<text x="407.60" y="203.20" font-size="5.6" font-weight="bold" font-style="normal" text-anchor="start" letter-spacing="0.45">age</text>
<text x="420.50" y="201.10" font-size="7.3" font-weight="bold" font-style="normal" text-anchor="start">&lt; 0.05</text>
<text x="403.20" y="212.40" font-size="7.5" font-weight="bold" font-style="italic" text-anchor="start">q</text>
<text x="407.60" y="214.50" font-size="5.6" font-weight="bold" font-style="normal" text-anchor="start" letter-spacing="0.25">breed</text>
<text x="426.20" y="212.40" font-size="7.3" font-weight="bold" font-style="normal" text-anchor="start">&gt; 0.05</text>
<rect x="460.20" y="199.85" width="9.3" height="4.5" fill="#fff" stroke="#000" stroke-width="1.6"/>
<text x="474.30" y="204.55" font-size="7.25" font-weight="normal" font-style="normal" text-anchor="start">Yorkshire</text>
<rect x="460.20" y="211.55" width="9.3" height="4.5" fill="#9f9f9f" stroke="#000" stroke-width="1.6"/>
<text x="474.30" y="216.25" font-size="7.25" font-weight="normal" font-style="normal" text-anchor="start">Meishan</text>
<line x1="308.45" y1="239.40" x2="308.45" y2="247.80" stroke="#000" stroke-width="1.6"/>
<line x1="305.45" y1="239.40" x2="311.45" y2="239.40" stroke="#000" stroke-width="1.6"/>
<rect x="301.85" y="247.80" width="13.20" height="58.00" fill="#fff" stroke="#000" stroke-width="1.6"/>
<line x1="301.85" y1="281.30" x2="315.05" y2="281.30" stroke="#000" stroke-width="1.3"/>
<circle cx="308.45" cy="239.40" r="1.85" fill="#000"/>
<circle cx="308.45" cy="251.30" r="1.85" fill="#000"/>
<circle cx="308.45" cy="271.50" r="1.85" fill="#000"/>
<circle cx="308.45" cy="291.50" r="1.85" fill="#000"/>
<circle cx="305.85" cy="305.50" r="1.85" fill="#000"/>
<circle cx="310.85" cy="305.50" r="1.85" fill="#000"/>
<line x1="321.80" y1="305.50" x2="334.60" y2="305.50" stroke="#000" stroke-width="1.6"/>
<rect x="322.35" y="300.35" width="3.5" height="3.5" fill="#000"/>
<rect x="326.85" y="303.75" width="3.5" height="3.5" fill="#000"/>
<rect x="330.65" y="303.75" width="3.5" height="3.5" fill="#000"/>
<line x1="322.90" y1="302.30" x2="329.20" y2="302.30" stroke="#000" stroke-width="1.2"/>
<text x="328.50" y="296.30" font-size="8.5" font-weight="bold" font-style="normal" text-anchor="middle" stroke="#000" stroke-width="0.3">b</text>
<line x1="361.05" y1="283.40" x2="361.05" y2="293.80" stroke="#000" stroke-width="1.6"/>
<line x1="358.05" y1="283.40" x2="364.05" y2="283.40" stroke="#000" stroke-width="1.6"/>
<rect x="354.45" y="293.80" width="13.20" height="12.00" fill="#fff" stroke="#000" stroke-width="1.6"/>
<circle cx="361.05" cy="283.40" r="1.85" fill="#000"/>
<circle cx="358.55" cy="305.50" r="1.85" fill="#000"/>
<circle cx="363.25" cy="305.50" r="1.85" fill="#000"/>
<line x1="380.80" y1="296.80" x2="380.80" y2="303.20" stroke="#000" stroke-width="1.6"/>
<line x1="377.80" y1="296.80" x2="383.80" y2="296.80" stroke="#000" stroke-width="1.6"/>
<rect x="374.20" y="303.20" width="13.20" height="2.80" fill="#000" stroke="#000" stroke-width="1.6"/>
<rect x="379.05" y="295.05" width="3.5" height="3.5" fill="#000"/>
<rect x="374.45" y="303.75" width="3.5" height="3.5" fill="#000"/>
<rect x="377.52" y="303.75" width="3.5" height="3.5" fill="#000"/>
<rect x="380.58" y="303.75" width="3.5" height="3.5" fill="#000"/>
<rect x="383.65" y="303.75" width="3.5" height="3.5" fill="#000"/>
<text x="381.40" y="289.60" font-size="8.5" font-weight="bold" font-style="normal" text-anchor="middle" stroke="#000" stroke-width="0.3">b</text>
<line x1="414.05" y1="237.60" x2="414.05" y2="263.30" stroke="#000" stroke-width="1.6"/>
<line x1="411.05" y1="237.60" x2="417.05" y2="237.60" stroke="#000" stroke-width="1.6"/>
<rect x="407.45" y="263.30" width="13.20" height="42.50" fill="#fff" stroke="#000" stroke-width="1.6"/>
<line x1="407.45" y1="273.80" x2="420.65" y2="273.80" stroke="#000" stroke-width="1.3"/>
<circle cx="414.05" cy="237.60" r="1.85" fill="#000"/>
<circle cx="409.30" cy="272.70" r="1.85" fill="#000"/>
<circle cx="414.05" cy="275.60" r="1.85" fill="#000"/>
<circle cx="418.30" cy="272.30" r="1.85" fill="#000"/>
<circle cx="411.30" cy="305.50" r="1.85" fill="#000"/>
<circle cx="416.70" cy="305.50" r="1.85" fill="#000"/>
<line x1="433.70" y1="243.80" x2="433.70" y2="248.70" stroke="#000" stroke-width="1.6"/>
<line x1="430.70" y1="243.80" x2="436.70" y2="243.80" stroke="#000" stroke-width="1.6"/>
<line x1="433.70" y1="291.70" x2="433.70" y2="305.80" stroke="#000" stroke-width="1.6"/>
<line x1="430.70" y1="305.80" x2="436.70" y2="305.80" stroke="#000" stroke-width="1.6"/>
<rect x="427.10" y="248.70" width="13.20" height="43.00" fill="#9f9f9f" stroke="#000" stroke-width="1.6"/>
<line x1="427.10" y1="263.00" x2="440.30" y2="263.00" stroke="#000" stroke-width="1.3"/>
<rect x="431.95" y="242.05" width="3.5" height="3.5" fill="#000"/>
<rect x="429.35" y="249.25" width="3.5" height="3.5" fill="#000"/>
<rect x="434.35" y="252.85" width="3.5" height="3.5" fill="#000"/>
<rect x="431.95" y="269.75" width="3.5" height="3.5" fill="#000"/>
<rect x="431.95" y="284.95" width="3.5" height="3.5" fill="#000"/>
<rect x="431.95" y="304.05" width="3.5" height="3.5" fill="#000"/>
<text x="436.00" y="240.50" font-size="8.5" font-weight="bold" font-style="normal" text-anchor="middle" stroke="#000" stroke-width="0.3">a</text>
<text x="266.00" y="380.50" font-size="20" font-weight="bold" font-style="normal" text-anchor="start">h</text>
<text x="361.60" y="390.90" font-size="9.25" font-weight="bold" font-style="italic" text-anchor="middle">Bilophila wadsworthia</text>
<line x1="295.15" y1="402.60" x2="295.15" y2="518.70" stroke="#000" stroke-width="1.6"/>
<line x1="294.35" y1="517.90" x2="448.05" y2="517.90" stroke="#000" stroke-width="1.7"/>
<line x1="292.35" y1="403.40" x2="295.15" y2="403.40" stroke="#000" stroke-width="1.5"/>
<text x="291.25" y="405.90" font-size="7.7" font-weight="bold" font-style="normal" text-anchor="end">10</text>
<line x1="292.35" y1="455.30" x2="295.15" y2="455.30" stroke="#000" stroke-width="1.5"/>
<text x="291.25" y="457.80" font-size="7.7" font-weight="bold" font-style="normal" text-anchor="end">5</text>
<line x1="292.35" y1="507.20" x2="295.15" y2="507.20" stroke="#000" stroke-width="1.5"/>
<text x="291.25" y="509.70" font-size="7.7" font-weight="bold" font-style="normal" text-anchor="end">0</text>
<line x1="318.45" y1="517.90" x2="318.45" y2="521.80" stroke="#000" stroke-width="1.6"/>
<text x="317.85" y="529.00" font-size="7.15" font-weight="bold" font-style="normal" text-anchor="middle">Day 14</text>
<line x1="370.95" y1="517.90" x2="370.95" y2="521.80" stroke="#000" stroke-width="1.6"/>
<text x="370.35" y="529.00" font-size="7.15" font-weight="bold" font-style="normal" text-anchor="middle">Day 28</text>
<line x1="423.90" y1="517.90" x2="423.90" y2="521.80" stroke="#000" stroke-width="1.6"/>
<text x="423.30" y="529.00" font-size="7.15" font-weight="bold" font-style="normal" text-anchor="middle">Day 49</text>
<text transform="translate(269.60,460.00) rotate(-90)" font-size="7.1" font-weight="bold" text-anchor="middle">Inferred Absolute Abundance</text>
<text transform="translate(278.30,460.00) rotate(-90)" font-size="7.1" font-weight="bold" text-anchor="middle">(16S copies/g feces)</text>
<text x="403.10" y="405.30" font-size="7.5" font-weight="bold" font-style="italic" text-anchor="start">q</text>
<text x="407.50" y="407.40" font-size="5.6" font-weight="bold" font-style="normal" text-anchor="start" letter-spacing="0.45">age</text>
<text x="420.40" y="405.30" font-size="7.3" font-weight="bold" font-style="normal" text-anchor="start">&lt; 0.05</text>
<text x="403.10" y="416.40" font-size="7.5" font-weight="bold" font-style="italic" text-anchor="start">q</text>
<text x="407.50" y="418.50" font-size="5.6" font-weight="bold" font-style="normal" text-anchor="start" letter-spacing="0.25">breed</text>
<text x="426.10" y="416.40" font-size="7.3" font-weight="bold" font-style="normal" text-anchor="start">&gt; 0.05</text>
<rect x="460.20" y="402.45" width="9.3" height="4.5" fill="#fff" stroke="#000" stroke-width="1.6"/>
<text x="474.30" y="407.15" font-size="7.25" font-weight="normal" font-style="normal" text-anchor="start">Yorkshire</text>
<rect x="460.20" y="413.65" width="9.3" height="4.5" fill="#9f9f9f" stroke="#000" stroke-width="1.6"/>
<text x="474.30" y="418.35" font-size="7.25" font-weight="normal" font-style="normal" text-anchor="start">Meishan</text>
<line x1="308.45" y1="441.60" x2="308.45" y2="449.30" stroke="#000" stroke-width="1.6"/>
<line x1="305.45" y1="441.60" x2="311.45" y2="441.60" stroke="#000" stroke-width="1.6"/>
<rect x="301.85" y="449.30" width="13.20" height="58.20" fill="#fff" stroke="#000" stroke-width="1.6"/>
<line x1="301.85" y1="483.40" x2="315.05" y2="483.40" stroke="#000" stroke-width="1.3"/>
<circle cx="308.45" cy="441.60" r="1.85" fill="#000"/>
<circle cx="308.45" cy="453.00" r="1.85" fill="#000"/>
<circle cx="308.45" cy="473.50" r="1.85" fill="#000"/>
<circle cx="308.45" cy="493.60" r="1.85" fill="#000"/>
<circle cx="305.85" cy="507.20" r="1.85" fill="#000"/>
<circle cx="310.85" cy="507.20" r="1.85" fill="#000"/>
<line x1="321.80" y1="507.20" x2="334.60" y2="507.20" stroke="#000" stroke-width="1.6"/>
<rect x="322.35" y="502.15" width="3.5" height="3.5" fill="#000"/>
<rect x="326.85" y="505.45" width="3.5" height="3.5" fill="#000"/>
<rect x="330.65" y="505.45" width="3.5" height="3.5" fill="#000"/>
<line x1="322.90" y1="504.00" x2="329.20" y2="504.00" stroke="#000" stroke-width="1.2"/>
<text x="328.50" y="496.50" font-size="8.5" font-weight="bold" font-style="normal" text-anchor="middle" stroke="#000" stroke-width="0.3">b</text>
<line x1="361.05" y1="485.20" x2="361.05" y2="496.40" stroke="#000" stroke-width="1.6"/>
<line x1="358.05" y1="485.20" x2="364.05" y2="485.20" stroke="#000" stroke-width="1.6"/>
<rect x="354.45" y="496.40" width="13.20" height="11.10" fill="#fff" stroke="#000" stroke-width="1.6"/>
<circle cx="361.05" cy="485.20" r="1.85" fill="#000"/>
<circle cx="358.55" cy="507.20" r="1.85" fill="#000"/>
<circle cx="363.25" cy="507.20" r="1.85" fill="#000"/>
<line x1="380.60" y1="453.00" x2="380.60" y2="487.50" stroke="#000" stroke-width="1.6"/>
<line x1="377.60" y1="453.00" x2="383.60" y2="453.00" stroke="#000" stroke-width="1.6"/>
<rect x="374.00" y="487.50" width="13.20" height="19.90" fill="#9f9f9f" stroke="#000" stroke-width="1.6"/>
<rect x="378.85" y="451.25" width="3.5" height="3.5" fill="#000"/>
<rect x="379.15" y="497.15" width="3.5" height="3.5" fill="#000"/>
<rect x="375.85" y="505.55" width="3.5" height="3.5" fill="#000"/>
<rect x="378.85" y="505.55" width="3.5" height="3.5" fill="#000"/>
<rect x="381.85" y="505.55" width="3.5" height="3.5" fill="#000"/>
<text x="380.60" y="446.20" font-size="8.5" font-weight="bold" font-style="normal" text-anchor="middle" stroke="#000" stroke-width="0.3">b</text>
<line x1="414.05" y1="439.40" x2="414.05" y2="464.60" stroke="#000" stroke-width="1.6"/>
<line x1="411.05" y1="439.40" x2="417.05" y2="439.40" stroke="#000" stroke-width="1.6"/>
<rect x="407.45" y="464.60" width="13.20" height="42.90" fill="#fff" stroke="#000" stroke-width="1.6"/>
<line x1="407.45" y1="475.30" x2="420.65" y2="475.30" stroke="#000" stroke-width="1.3"/>
<circle cx="414.05" cy="439.40" r="1.85" fill="#000"/>
<circle cx="409.30" cy="474.40" r="1.85" fill="#000"/>
<circle cx="414.05" cy="477.50" r="1.85" fill="#000"/>
<circle cx="418.30" cy="474.10" r="1.85" fill="#000"/>
<circle cx="411.30" cy="507.20" r="1.85" fill="#000"/>
<circle cx="416.70" cy="507.20" r="1.85" fill="#000"/>
<line x1="433.70" y1="446.10" x2="433.70" y2="450.80" stroke="#000" stroke-width="1.6"/>
<line x1="430.70" y1="446.10" x2="436.70" y2="446.10" stroke="#000" stroke-width="1.6"/>
<line x1="433.70" y1="493.60" x2="433.70" y2="507.50" stroke="#000" stroke-width="1.6"/>
<line x1="430.70" y1="507.50" x2="436.70" y2="507.50" stroke="#000" stroke-width="1.6"/>
<rect x="427.10" y="450.80" width="13.20" height="42.80" fill="#9f9f9f" stroke="#000" stroke-width="1.6"/>
<line x1="427.10" y1="464.60" x2="440.30" y2="464.60" stroke="#000" stroke-width="1.3"/>
<rect x="431.95" y="444.35" width="3.5" height="3.5" fill="#000"/>
<rect x="429.35" y="451.25" width="3.5" height="3.5" fill="#000"/>
<rect x="434.35" y="454.85" width="3.5" height="3.5" fill="#000"/>
<rect x="431.95" y="471.75" width="3.5" height="3.5" fill="#000"/>
<rect x="431.95" y="486.95" width="3.5" height="3.5" fill="#000"/>
<rect x="431.95" y="505.75" width="3.5" height="3.5" fill="#000"/>
<text x="433.00" y="439.10" font-size="8.5" font-weight="bold" font-style="normal" text-anchor="middle" stroke="#000" stroke-width="0.3">a</text>
<text x="546.60" y="15.60" font-size="20" font-weight="bold" font-style="normal" text-anchor="start">c</text>
<text x="646.00" y="19.70" font-size="9.05" font-weight="bold" font-style="normal" text-anchor="middle">Firmicutes</text>
<line x1="575.30" y1="25.80" x2="575.30" y2="141.70" stroke="#000" stroke-width="1.6"/>
<line x1="574.50" y1="140.90" x2="728.20" y2="140.90" stroke="#000" stroke-width="1.7"/>
<line x1="572.50" y1="26.60" x2="575.30" y2="26.60" stroke="#000" stroke-width="1.5"/>
<text x="571.40" y="29.10" font-size="7.7" font-weight="bold" font-style="normal" text-anchor="end">8</text>
<line x1="572.50" y1="52.00" x2="575.30" y2="52.00" stroke="#000" stroke-width="1.5"/>
<text x="571.40" y="54.50" font-size="7.7" font-weight="bold" font-style="normal" text-anchor="end">6</text>
<line x1="572.50" y1="77.40" x2="575.30" y2="77.40" stroke="#000" stroke-width="1.5"/>
<text x="571.40" y="79.90" font-size="7.7" font-weight="bold" font-style="normal" text-anchor="end">4</text>
<line x1="572.50" y1="102.75" x2="575.30" y2="102.75" stroke="#000" stroke-width="1.5"/>
<text x="571.40" y="105.25" font-size="7.7" font-weight="bold" font-style="normal" text-anchor="end">2</text>
<line x1="572.50" y1="128.10" x2="575.30" y2="128.10" stroke="#000" stroke-width="1.5"/>
<text x="571.40" y="130.60" font-size="7.7" font-weight="bold" font-style="normal" text-anchor="end">0</text>
<line x1="598.60" y1="140.90" x2="598.60" y2="144.80" stroke="#000" stroke-width="1.6"/>
<text x="598.00" y="152.00" font-size="7.15" font-weight="bold" font-style="normal" text-anchor="middle">Day 14</text>
<line x1="651.10" y1="140.90" x2="651.10" y2="144.80" stroke="#000" stroke-width="1.6"/>
<text x="650.50" y="152.00" font-size="7.15" font-weight="bold" font-style="normal" text-anchor="middle">Day 28</text>
<line x1="704.05" y1="140.90" x2="704.05" y2="144.80" stroke="#000" stroke-width="1.6"/>
<text x="703.45" y="152.00" font-size="7.15" font-weight="bold" font-style="normal" text-anchor="middle">Day 49</text>
<text transform="translate(551.60,82.70) rotate(-90)" font-size="7.1" font-weight="bold" text-anchor="middle">Inferred Absolute Abundance</text>
<text transform="translate(560.30,82.70) rotate(-90)" font-size="7.1" font-weight="bold" text-anchor="middle">(16S copies/g feces)</text>
<text x="684.00" y="26.00" font-size="7.5" font-weight="bold" font-style="italic" text-anchor="start">q</text>
<text x="688.40" y="28.10" font-size="5.6" font-weight="bold" font-style="normal" text-anchor="start" letter-spacing="0.45">age</text>
<text x="701.30" y="26.00" font-size="7.3" font-weight="bold" font-style="normal" text-anchor="start">&lt; 0.05</text>
<text x="684.00" y="38.00" font-size="7.5" font-weight="bold" font-style="italic" text-anchor="start">q</text>
<text x="688.40" y="40.10" font-size="5.6" font-weight="bold" font-style="normal" text-anchor="start" letter-spacing="0.25">breed</text>
<text x="707.00" y="38.00" font-size="7.3" font-weight="bold" font-style="normal" text-anchor="start">&gt; 0.05</text>
<rect x="740.00" y="24.85" width="9.7" height="4.5" fill="#fff" stroke="#000" stroke-width="1.6"/>
<text x="754.50" y="29.55" font-size="7.25" font-weight="normal" font-style="normal" text-anchor="start">Yorkshire</text>
<rect x="740.00" y="36.55" width="9.7" height="4.5" fill="#9f9f9f" stroke="#000" stroke-width="1.6"/>
<text x="754.50" y="41.25" font-size="7.25" font-weight="normal" font-style="normal" text-anchor="start">Meishan</text>
<line x1="588.60" y1="72.30" x2="588.60" y2="113.40" stroke="#000" stroke-width="1.6"/>
<line x1="585.60" y1="72.30" x2="591.60" y2="72.30" stroke="#000" stroke-width="1.6"/>
<rect x="582.00" y="113.40" width="13.20" height="14.90" fill="#fff" stroke="#000" stroke-width="1.6"/>
<circle cx="588.60" cy="72.30" r="1.85" fill="#000"/>
<circle cx="584.00" cy="128.60" r="1.85" fill="#000"/>
<circle cx="586.30" cy="128.60" r="1.85" fill="#000"/>
<circle cx="588.60" cy="128.60" r="1.85" fill="#000"/>
<circle cx="590.90" cy="128.60" r="1.85" fill="#000"/>
<circle cx="593.20" cy="128.60" r="1.85" fill="#000"/>
<text x="587.80" y="65.90" font-size="8.5" font-weight="bold" font-style="normal" text-anchor="middle" stroke="#000" stroke-width="0.3">b</text>
<line x1="602.25" y1="128.10" x2="614.55" y2="128.10" stroke="#000" stroke-width="1.6"/>
<line x1="608.55" y1="86.20" x2="608.55" y2="128.10" stroke="#000" stroke-width="1.6"/>
<line x1="605.55" y1="86.20" x2="611.55" y2="86.20" stroke="#000" stroke-width="1.6"/>
<rect x="606.80" y="84.45" width="3.5" height="3.5" fill="#000"/>
<rect x="603.80" y="126.35" width="3.5" height="3.5" fill="#000"/>
<rect x="609.80" y="126.35" width="3.5" height="3.5" fill="#000"/>
<line x1="634.60" y1="128.10" x2="647.80" y2="128.10" stroke="#000" stroke-width="1.2"/>
<circle cx="636.60" cy="128.10" r="1.85" fill="#000"/>
<circle cx="638.90" cy="128.10" r="1.85" fill="#000"/>
<circle cx="641.20" cy="128.10" r="1.85" fill="#000"/>
<circle cx="643.50" cy="128.10" r="1.85" fill="#000"/>
<circle cx="645.80" cy="128.10" r="1.85" fill="#000"/>
<line x1="660.95" y1="105.20" x2="660.95" y2="122.30" stroke="#000" stroke-width="1.6"/>
<line x1="657.95" y1="105.20" x2="663.95" y2="105.20" stroke="#000" stroke-width="1.6"/>
<rect x="654.35" y="122.30" width="13.20" height="6.00" fill="#9f9f9f" stroke="#000" stroke-width="1.6"/>
<line x1="654.35" y1="125.00" x2="667.55" y2="125.00" stroke="#000" stroke-width="1.3"/>
<rect x="659.20" y="103.45" width="3.5" height="3.5" fill="#000"/>
<rect x="654.60" y="126.55" width="3.5" height="3.5" fill="#000"/>
<rect x="657.67" y="126.55" width="3.5" height="3.5" fill="#000"/>
<rect x="660.73" y="126.55" width="3.5" height="3.5" fill="#000"/>
<rect x="663.80" y="126.55" width="3.5" height="3.5" fill="#000"/>
<line x1="694.20" y1="56.30" x2="694.20" y2="70.30" stroke="#000" stroke-width="1.6"/>
<line x1="691.20" y1="56.30" x2="697.20" y2="56.30" stroke="#000" stroke-width="1.6"/>
<line x1="694.20" y1="101.30" x2="694.20" y2="128.10" stroke="#000" stroke-width="1.6"/>
<line x1="691.20" y1="128.10" x2="697.20" y2="128.10" stroke="#000" stroke-width="1.6"/>
<rect x="687.60" y="70.30" width="13.20" height="31.00" fill="#fff" stroke="#000" stroke-width="1.6"/>
<line x1="687.60" y1="86.00" x2="700.80" y2="86.00" stroke="#000" stroke-width="1.3"/>
<circle cx="694.20" cy="56.30" r="1.85" fill="#000"/>
<circle cx="694.20" cy="76.00" r="1.85" fill="#000"/>
<circle cx="694.20" cy="81.40" r="1.85" fill="#000"/>
<circle cx="691.80" cy="90.30" r="1.85" fill="#000"/>
<circle cx="696.90" cy="92.40" r="1.85" fill="#000"/>
<circle cx="694.20" cy="128.10" r="1.85" fill="#000"/>
<text x="694.70" y="52.90" font-size="8.5" font-weight="bold" font-style="normal" text-anchor="middle" stroke="#000" stroke-width="0.3">a</text>
<line x1="713.85" y1="45.60" x2="713.85" y2="54.50" stroke="#000" stroke-width="1.6"/>
<line x1="710.85" y1="45.60" x2="716.85" y2="45.60" stroke="#000" stroke-width="1.6"/>
<rect x="707.25" y="54.50" width="13.20" height="73.80" fill="#9f9f9f" stroke="#000" stroke-width="1.6"/>
<line x1="707.25" y1="93.20" x2="720.45" y2="93.20" stroke="#000" stroke-width="1.3"/>
<rect x="712.10" y="43.85" width="3.5" height="3.5" fill="#000"/>
<rect x="709.60" y="56.85" width="3.5" height="3.5" fill="#000"/>
<rect x="714.60" y="56.85" width="3.5" height="3.5" fill="#000"/>
<rect x="707.80" y="126.75" width="3.5" height="3.5" fill="#000"/>
<rect x="712.10" y="126.75" width="3.5" height="3.5" fill="#000"/>
<rect x="716.40" y="126.75" width="3.5" height="3.5" fill="#000"/>
<text x="546.80" y="193.00" font-size="20" font-weight="bold" font-style="normal" text-anchor="start">f</text>
<text x="646.20" y="194.30" font-size="9.25" font-weight="bold" font-style="italic" text-anchor="middle">Faecalibacterium</text>
<line x1="575.30" y1="200.70" x2="575.30" y2="316.90" stroke="#000" stroke-width="1.6"/>
<line x1="574.50" y1="316.10" x2="728.20" y2="316.10" stroke="#000" stroke-width="1.7"/>
<line x1="572.50" y1="201.50" x2="575.30" y2="201.50" stroke="#000" stroke-width="1.5"/>
<text x="571.40" y="204.00" font-size="7.7" font-weight="bold" font-style="normal" text-anchor="end">10</text>
<line x1="572.50" y1="222.32" x2="575.30" y2="222.32" stroke="#000" stroke-width="1.5"/>
<text x="571.40" y="224.82" font-size="7.7" font-weight="bold" font-style="normal" text-anchor="end">8</text>
<line x1="572.50" y1="243.14" x2="575.30" y2="243.14" stroke="#000" stroke-width="1.5"/>
<text x="571.40" y="245.64" font-size="7.7" font-weight="bold" font-style="normal" text-anchor="end">6</text>
<line x1="572.50" y1="263.96" x2="575.30" y2="263.96" stroke="#000" stroke-width="1.5"/>
<text x="571.40" y="266.46" font-size="7.7" font-weight="bold" font-style="normal" text-anchor="end">4</text>
<line x1="572.50" y1="284.78" x2="575.30" y2="284.78" stroke="#000" stroke-width="1.5"/>
<text x="571.40" y="287.28" font-size="7.7" font-weight="bold" font-style="normal" text-anchor="end">2</text>
<line x1="572.50" y1="305.60" x2="575.30" y2="305.60" stroke="#000" stroke-width="1.5"/>
<text x="571.40" y="308.10" font-size="7.7" font-weight="bold" font-style="normal" text-anchor="end">0</text>
<line x1="598.60" y1="316.10" x2="598.60" y2="320.00" stroke="#000" stroke-width="1.6"/>
<text x="598.00" y="327.00" font-size="7.15" font-weight="bold" font-style="normal" text-anchor="middle">Day 14</text>
<line x1="651.10" y1="316.10" x2="651.10" y2="320.00" stroke="#000" stroke-width="1.6"/>
<text x="650.50" y="327.00" font-size="7.15" font-weight="bold" font-style="normal" text-anchor="middle">Day 28</text>
<line x1="704.05" y1="316.10" x2="704.05" y2="320.00" stroke="#000" stroke-width="1.6"/>
<text x="703.45" y="327.00" font-size="7.15" font-weight="bold" font-style="normal" text-anchor="middle">Day 49</text>
<text transform="translate(549.90,257.60) rotate(-90)" font-size="7.1" font-weight="bold" text-anchor="middle">Inferred Absolute Abundance</text>
<text transform="translate(558.60,257.60) rotate(-90)" font-size="7.1" font-weight="bold" text-anchor="middle">(16S copies/g feces)</text>
<text x="684.00" y="203.40" font-size="7.5" font-weight="bold" font-style="italic" text-anchor="start">q</text>
<text x="688.40" y="205.50" font-size="5.6" font-weight="bold" font-style="normal" text-anchor="start" letter-spacing="0.45">age</text>
<text x="701.30" y="203.40" font-size="7.3" font-weight="bold" font-style="normal" text-anchor="start">&lt; 0.05</text>
<text x="683.20" y="214.90" font-size="7.5" font-weight="bold" font-style="italic" text-anchor="start">q</text>
<text x="687.60" y="217.00" font-size="5.6" font-weight="bold" font-style="normal" text-anchor="start" letter-spacing="0.25">breed</text>
<text x="706.20" y="214.90" font-size="7.3" font-weight="bold" font-style="normal" text-anchor="start">&gt; 0.05</text>
<rect x="740.00" y="199.85" width="9.7" height="4.5" fill="#fff" stroke="#000" stroke-width="1.6"/>
<text x="754.50" y="204.55" font-size="7.25" font-weight="normal" font-style="normal" text-anchor="start">Yorkshire</text>
<rect x="740.00" y="211.55" width="9.7" height="4.5" fill="#9f9f9f" stroke="#000" stroke-width="1.6"/>
<text x="754.50" y="216.25" font-size="7.25" font-weight="normal" font-style="normal" text-anchor="start">Meishan</text>
<line x1="588.60" y1="270.90" x2="588.60" y2="296.80" stroke="#000" stroke-width="1.6"/>
<line x1="585.60" y1="270.90" x2="591.60" y2="270.90" stroke="#000" stroke-width="1.6"/>
<rect x="582.00" y="296.80" width="13.20" height="8.90" fill="#fff" stroke="#000" stroke-width="1.6"/>
<circle cx="588.60" cy="270.90" r="1.85" fill="#000"/>
<circle cx="584.00" cy="305.90" r="1.85" fill="#000"/>
<circle cx="586.30" cy="305.90" r="1.85" fill="#000"/>
<circle cx="588.60" cy="305.90" r="1.85" fill="#000"/>
<circle cx="590.90" cy="305.90" r="1.85" fill="#000"/>
<circle cx="593.20" cy="305.90" r="1.85" fill="#000"/>
<text x="588.80" y="263.90" font-size="8.5" font-weight="bold" font-style="normal" text-anchor="middle" stroke="#000" stroke-width="0.3">b</text>
<line x1="602.25" y1="305.50" x2="614.55" y2="305.50" stroke="#000" stroke-width="1.6"/>
<line x1="608.55" y1="267.50" x2="608.55" y2="305.50" stroke="#000" stroke-width="1.6"/>
<line x1="605.55" y1="267.50" x2="611.55" y2="267.50" stroke="#000" stroke-width="1.6"/>
<rect x="606.80" y="265.75" width="3.5" height="3.5" fill="#000"/>
<rect x="603.80" y="303.75" width="3.5" height="3.5" fill="#000"/>
<rect x="609.80" y="303.75" width="3.5" height="3.5" fill="#000"/>
<line x1="634.60" y1="305.50" x2="647.80" y2="305.50" stroke="#000" stroke-width="1.2"/>
<circle cx="636.60" cy="305.50" r="1.85" fill="#000"/>
<circle cx="638.90" cy="305.50" r="1.85" fill="#000"/>
<circle cx="641.20" cy="305.50" r="1.85" fill="#000"/>
<circle cx="643.50" cy="305.50" r="1.85" fill="#000"/>
<circle cx="645.80" cy="305.50" r="1.85" fill="#000"/>
<line x1="654.35" y1="305.50" x2="667.55" y2="305.50" stroke="#000" stroke-width="1.2"/>
<rect x="654.60" y="303.75" width="3.5" height="3.5" fill="#000"/>
<rect x="656.90" y="303.75" width="3.5" height="3.5" fill="#000"/>
<rect x="659.20" y="303.75" width="3.5" height="3.5" fill="#000"/>
<rect x="661.50" y="303.75" width="3.5" height="3.5" fill="#000"/>
<rect x="663.80" y="303.75" width="3.5" height="3.5" fill="#000"/>
<line x1="694.20" y1="251.80" x2="694.20" y2="259.70" stroke="#000" stroke-width="1.6"/>
<line x1="691.20" y1="251.80" x2="697.20" y2="251.80" stroke="#000" stroke-width="1.6"/>
<line x1="694.20" y1="284.00" x2="694.20" y2="305.70" stroke="#000" stroke-width="1.6"/>
<line x1="691.20" y1="305.70" x2="697.20" y2="305.70" stroke="#000" stroke-width="1.6"/>
<rect x="687.60" y="259.70" width="13.20" height="24.30" fill="#fff" stroke="#000" stroke-width="1.6"/>
<line x1="687.60" y1="273.20" x2="700.80" y2="273.20" stroke="#000" stroke-width="1.3"/>
<circle cx="694.20" cy="251.80" r="1.85" fill="#000"/>
<circle cx="694.20" cy="262.90" r="1.85" fill="#000"/>
<circle cx="694.20" cy="269.70" r="1.85" fill="#000"/>
<circle cx="691.70" cy="276.80" r="1.85" fill="#000"/>
<circle cx="696.80" cy="276.80" r="1.85" fill="#000"/>
<circle cx="694.20" cy="305.70" r="1.85" fill="#000"/>
<text x="693.70" y="244.40" font-size="8.5" font-weight="bold" font-style="normal" text-anchor="middle" stroke="#000" stroke-width="0.3">a</text>
<line x1="713.85" y1="243.80" x2="713.85" y2="249.20" stroke="#000" stroke-width="1.6"/>
<line x1="710.85" y1="243.80" x2="716.85" y2="243.80" stroke="#000" stroke-width="1.6"/>
<rect x="707.25" y="249.20" width="13.20" height="56.60" fill="#9f9f9f" stroke="#000" stroke-width="1.6"/>
<line x1="707.25" y1="282.20" x2="720.45" y2="282.20" stroke="#000" stroke-width="1.3"/>
<rect x="712.10" y="242.05" width="3.5" height="3.5" fill="#000"/>
<rect x="712.10" y="249.25" width="3.5" height="3.5" fill="#000"/>
<rect x="712.10" y="256.75" width="3.5" height="3.5" fill="#000"/>
<rect x="707.80" y="304.25" width="3.5" height="3.5" fill="#000"/>
<rect x="712.10" y="304.25" width="3.5" height="3.5" fill="#000"/>
<rect x="716.40" y="304.25" width="3.5" height="3.5" fill="#000"/>
<text x="546.90" y="380.80" font-size="20" font-weight="bold" font-style="normal" text-anchor="start">i</text>
<text x="646.20" y="391.30" font-size="9.25" font-weight="bold" font-style="italic" text-anchor="middle">Faecalibacterium prausnitzii</text>
<line x1="575.30" y1="397.30" x2="575.30" y2="513.20" stroke="#000" stroke-width="1.6"/>
<line x1="574.50" y1="512.40" x2="728.20" y2="512.40" stroke="#000" stroke-width="1.7"/>
<line x1="572.50" y1="398.10" x2="575.30" y2="398.10" stroke="#000" stroke-width="1.5"/>
<text x="571.40" y="400.60" font-size="7.7" font-weight="bold" font-style="normal" text-anchor="end">10</text>
<line x1="572.50" y1="450.00" x2="575.30" y2="450.00" stroke="#000" stroke-width="1.5"/>
<text x="571.40" y="452.50" font-size="7.7" font-weight="bold" font-style="normal" text-anchor="end">5</text>
<line x1="572.50" y1="502.00" x2="575.30" y2="502.00" stroke="#000" stroke-width="1.5"/>
<text x="571.40" y="504.50" font-size="7.7" font-weight="bold" font-style="normal" text-anchor="end">0</text>
<line x1="598.60" y1="512.40" x2="598.60" y2="516.30" stroke="#000" stroke-width="1.6"/>
<text x="598.00" y="523.40" font-size="7.15" font-weight="bold" font-style="normal" text-anchor="middle">Day 14</text>
<line x1="651.10" y1="512.40" x2="651.10" y2="516.30" stroke="#000" stroke-width="1.6"/>
<text x="650.50" y="523.40" font-size="7.15" font-weight="bold" font-style="normal" text-anchor="middle">Day 28</text>
<line x1="704.05" y1="512.40" x2="704.05" y2="516.30" stroke="#000" stroke-width="1.6"/>
<text x="703.45" y="523.40" font-size="7.15" font-weight="bold" font-style="normal" text-anchor="middle">Day 49</text>
<text transform="translate(549.90,454.60) rotate(-90)" font-size="7.1" font-weight="bold" text-anchor="middle">Inferred Absolute Abundance</text>
<text transform="translate(558.60,454.60) rotate(-90)" font-size="7.1" font-weight="bold" text-anchor="middle">(16S copies/g feces)</text>
<text x="684.00" y="404.00" font-size="7.5" font-weight="bold" font-style="italic" text-anchor="start">q</text>
<text x="688.40" y="406.10" font-size="5.6" font-weight="bold" font-style="normal" text-anchor="start" letter-spacing="0.45">age</text>
<text x="701.30" y="404.00" font-size="7.3" font-weight="bold" font-style="normal" text-anchor="start">&lt; 0.05</text>
<text x="684.00" y="415.30" font-size="7.5" font-weight="bold" font-style="italic" text-anchor="start">q</text>
<text x="688.40" y="417.40" font-size="5.6" font-weight="bold" font-style="normal" text-anchor="start" letter-spacing="0.25">breed</text>
<text x="707.00" y="415.30" font-size="7.3" font-weight="bold" font-style="normal" text-anchor="start">&gt; 0.05</text>
<rect x="740.00" y="396.85" width="9.7" height="4.5" fill="#fff" stroke="#000" stroke-width="1.6"/>
<text x="754.50" y="401.55" font-size="7.25" font-weight="normal" font-style="normal" text-anchor="start">Yorkshire</text>
<rect x="740.00" y="408.15" width="9.7" height="4.5" fill="#9f9f9f" stroke="#000" stroke-width="1.6"/>
<text x="754.50" y="412.85" font-size="7.25" font-weight="normal" font-style="normal" text-anchor="start">Meishan</text>
<line x1="588.60" y1="467.60" x2="588.60" y2="493.20" stroke="#000" stroke-width="1.6"/>
<line x1="585.60" y1="467.60" x2="591.60" y2="467.60" stroke="#000" stroke-width="1.6"/>
<rect x="582.00" y="493.20" width="13.20" height="9.00" fill="#fff" stroke="#000" stroke-width="1.6"/>
<circle cx="588.60" cy="467.60" r="1.85" fill="#000"/>
<circle cx="584.00" cy="502.40" r="1.85" fill="#000"/>
<circle cx="586.30" cy="502.40" r="1.85" fill="#000"/>
<circle cx="588.60" cy="502.40" r="1.85" fill="#000"/>
<circle cx="590.90" cy="502.40" r="1.85" fill="#000"/>
<circle cx="593.20" cy="502.40" r="1.85" fill="#000"/>
<text x="588.20" y="460.70" font-size="8.5" font-weight="bold" font-style="normal" text-anchor="middle" stroke="#000" stroke-width="0.3">b</text>
<line x1="602.25" y1="502.10" x2="614.55" y2="502.10" stroke="#000" stroke-width="1.6"/>
<line x1="608.55" y1="464.10" x2="608.55" y2="502.10" stroke="#000" stroke-width="1.6"/>
<line x1="605.55" y1="464.10" x2="611.55" y2="464.10" stroke="#000" stroke-width="1.6"/>
<rect x="606.80" y="462.35" width="3.5" height="3.5" fill="#000"/>
<rect x="603.80" y="500.35" width="3.5" height="3.5" fill="#000"/>
<rect x="609.80" y="500.35" width="3.5" height="3.5" fill="#000"/>
<line x1="634.60" y1="502.10" x2="647.80" y2="502.10" stroke="#000" stroke-width="1.2"/>
<circle cx="636.60" cy="502.10" r="1.85" fill="#000"/>
<circle cx="638.90" cy="502.10" r="1.85" fill="#000"/>
<circle cx="641.20" cy="502.10" r="1.85" fill="#000"/>
<circle cx="643.50" cy="502.10" r="1.85" fill="#000"/>
<circle cx="645.80" cy="502.10" r="1.85" fill="#000"/>
<line x1="654.35" y1="502.10" x2="667.55" y2="502.10" stroke="#000" stroke-width="1.2"/>
<rect x="654.60" y="500.35" width="3.5" height="3.5" fill="#000"/>
<rect x="656.90" y="500.35" width="3.5" height="3.5" fill="#000"/>
<rect x="659.20" y="500.35" width="3.5" height="3.5" fill="#000"/>
<rect x="661.50" y="500.35" width="3.5" height="3.5" fill="#000"/>
<rect x="663.80" y="500.35" width="3.5" height="3.5" fill="#000"/>
<line x1="694.20" y1="448.00" x2="694.20" y2="456.00" stroke="#000" stroke-width="1.6"/>
<line x1="691.20" y1="448.00" x2="697.20" y2="448.00" stroke="#000" stroke-width="1.6"/>
<line x1="694.20" y1="480.30" x2="694.20" y2="502.20" stroke="#000" stroke-width="1.6"/>
<line x1="691.20" y1="502.20" x2="697.20" y2="502.20" stroke="#000" stroke-width="1.6"/>
<rect x="687.60" y="456.00" width="13.20" height="24.30" fill="#fff" stroke="#000" stroke-width="1.6"/>
<line x1="687.60" y1="469.40" x2="700.80" y2="469.40" stroke="#000" stroke-width="1.3"/>
<circle cx="694.20" cy="448.00" r="1.85" fill="#000"/>
<circle cx="694.20" cy="459.20" r="1.85" fill="#000"/>
<circle cx="694.20" cy="466.40" r="1.85" fill="#000"/>
<circle cx="691.70" cy="473.20" r="1.85" fill="#000"/>
<circle cx="696.80" cy="473.20" r="1.85" fill="#000"/>
<circle cx="694.20" cy="502.20" r="1.85" fill="#000"/>
<text x="694.30" y="441.20" font-size="8.5" font-weight="bold" font-style="normal" text-anchor="middle" stroke="#000" stroke-width="0.3">a</text>
<line x1="713.85" y1="440.50" x2="713.85" y2="445.60" stroke="#000" stroke-width="1.6"/>
<line x1="710.85" y1="440.50" x2="716.85" y2="440.50" stroke="#000" stroke-width="1.6"/>
<rect x="707.25" y="445.60" width="13.20" height="56.70" fill="#9f9f9f" stroke="#000" stroke-width="1.6"/>
<line x1="707.25" y1="478.60" x2="720.45" y2="478.60" stroke="#000" stroke-width="1.3"/>
<rect x="712.10" y="438.75" width="3.5" height="3.5" fill="#000"/>
<rect x="712.10" y="446.25" width="3.5" height="3.5" fill="#000"/>
<rect x="712.10" y="453.05" width="3.5" height="3.5" fill="#000"/>
<rect x="707.80" y="500.75" width="3.5" height="3.5" fill="#000"/>
<rect x="712.10" y="500.75" width="3.5" height="3.5" fill="#000"/>
<rect x="716.40" y="500.75" width="3.5" height="3.5" fill="#000"/>
</svg>
</body></html>
